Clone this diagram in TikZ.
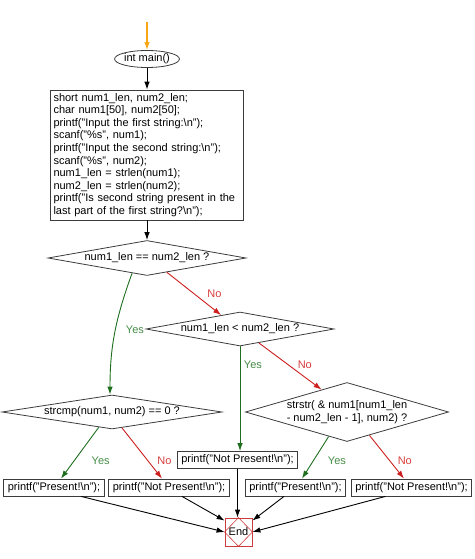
\documentclass[tikz,border=0pt]{standalone}
\usepackage{fontspec}
\setmainfont{Liberation Sans}
\usetikzlibrary{shapes.geometric,arrows.meta,calc}
\definecolor{yesgreen}{RGB}{30,110,30}
\definecolor{yestext}{RGB}{70,140,70}
\definecolor{nored}{RGB}{205,30,30}
\definecolor{notext}{RGB}{215,60,60}
\definecolor{startorange}{RGB}{250,165,20}
\definecolor{endred}{RGB}{205,60,60}
\definecolor{boxline}{RGB}{60,60,60}

\begin{document}
\begin{tikzpicture}[node distance=30pt,
	every node/.style={font=\fontsize{11}{12.6}\selectfont},
	block node/.style={rectangle,draw=boxline,line width=0.8pt,inner xsep=4pt,inner ysep=0pt,minimum height=17pt},
	decision node/.style={diamond,draw=boxline,line width=0.8pt,inner sep=0pt,align=center,shape aspect=5.5},
	flow/.style={-{Latex[length=8pt,width=5.5pt]},line width=0.9pt},
	yes edge/.style={flow,yesgreen},
	no edge/.style={flow,nored},
	yes label/.style={text=yestext,inner sep=1pt},
	no label/.style={text=notext,inner sep=1pt}]
	
	\useasboundingbox (0,0) rectangle (474pt,-559pt);
	\coordinate (start) at (147pt,-22pt);
	
	\node[ellipse,draw=boxline,line width=0.8pt,inner sep=0pt,minimum width=61pt,minimum height=17pt] (main) [node distance=37pt, below of=start] {int main()};
	\node[block node,text width=187pt,inner xsep=3pt,minimum height=130pt,align=left] (decl) [node distance=96pt, below of=main] {short num1\_len, num2\_len;\\
		char num1[50], num2[50];\\
		printf("Input the first string:\textbackslash n");\\
		scanf("\%s", num1);\\
		printf("Input the second string:\textbackslash n");\\
		scanf("\%s", num2);\\
		num1\_len = strlen(num1);\\
		num2\_len = strlen(num2);\\
		printf("Is second string present in the\\
		last part of the first string?\textbackslash n");};
	
	\node[decision node,minimum width=198pt,minimum height=35pt] (eqlen) [node distance=103pt, below of=decl] {num1\_len == num2\_len ?};
	\node[decision node,minimum width=188pt,minimum height=34pt] (ltlen) [node distance=71pt, below of=eqlen, xshift=93pt] {num1\_len < num2\_len ?};
	\node[decision node,shape aspect=6.5,minimum width=220pt,minimum height=34pt] (cmp) [node distance=154pt, below of=eqlen, xshift=-35pt] {strcmp(num1, num2) == 0 ?};
	\node[decision node,shape aspect=3.4,minimum width=203pt,minimum height=59pt] (sstr) [node distance=83pt, below of=ltlen, xshift=107pt] {strstr( \& num1[num1\_len\\- num2\_len - 1], num2) ?};
	
	\node[block node] (np0) [node distance=131pt, below of=ltlen, xshift=-2.5pt] {printf("Not Present!\textbackslash n");};
	\node[block node] (pA) [node distance=75.5pt, below of=cmp, xshift=-58pt] {printf("Present!\textbackslash n");};
	\node[block node] (pB) [node distance=75.5pt, below of=cmp, xshift=57pt] {printf("Not Present!\textbackslash n");};
	\node[block node] (pC) [node distance=75.5pt, below of=sstr, xshift=-51.5pt] {printf("Present!\textbackslash n");};
	\node[block node] (pD) [node distance=75.5pt, below of=sstr, xshift=64.5pt] {printf("Not Present!\textbackslash n");};
	
	\node[rectangle,draw=endred,line width=0.8pt,inner sep=0pt,minimum width=27pt,minimum height=28pt] (finish) [node distance=72pt, below of=np0, xshift=1pt] {End};
	\draw[endred,line width=0.6pt] (finish.north) -- (finish.east) -- (finish.south) -- (finish.west) -- cycle;
	
	\draw[flow,startorange,line width=1.3pt] (start) -- (main);
	\draw[flow] (main) -- (decl);
	\draw[flow] (decl) -- (eqlen);
	
	% branches
	\draw[yes edge] ($(eqlen.south)!0.15!(eqlen.west)$) to[out=-110,in=90] node[yes label,pos=0.47,right=9pt] {Yes} ([xshift=-2pt]cmp.north);
	\draw[no edge] ($(eqlen.south)!0.2!(eqlen.east)$) -- node[no label,pos=0.5,right=12pt] {No} ($(ltlen.north)!0.2!(ltlen.west)$);
	\draw[yes edge] (ltlen.south) -- node[yes label,pos=0.18,right=2.5pt] {Yes} (ltlen.south |- np0.north);
	\draw[no edge] ($(ltlen.south)!0.2!(ltlen.east)$) -- node[no label,pos=0.47,right=8pt] {No} ($(sstr.north)!0.25!(sstr.west)$);
	\draw[yes edge] ($(cmp.south)!0.12!(cmp.west)$) -- node[yes label,pos=0.65,right=16pt] {Yes} ([xshift=7pt]pA.north);
	\draw[no edge] ($(cmp.south)!0.09!(cmp.east)$) -- node[no label,pos=0.65,right=8pt] {No} ([xshift=-7pt]pB.north);
	\draw[yes edge] ($(sstr.south)!0.18!(sstr.west)$) -- node[yes label,pos=0.57,right=13pt] {Yes} ([xshift=6.5pt]pC.north);
	\draw[no edge] ($(sstr.south)!0.22!(sstr.east)$) -- node[no label,pos=0.59,right=6.5pt] {No} ([xshift=-7.5pt]pD.north);
	
	% into End
	\draw[flow] ([xshift=27pt]pA.south) -- (finish.west);
	\draw[flow] ([xshift=13pt]pB.south) -- ([yshift=-3pt]finish.north west);
	\draw[flow] (np0.south) -- (np0.south |- finish.north);
	\draw[flow] ([xshift=-11.5pt]pC.south) -- ([yshift=-3pt]finish.north east);
	\draw[flow] ([xshift=-26pt]pD.south) -- (finish.east);
\end{tikzpicture}
\end{document}
